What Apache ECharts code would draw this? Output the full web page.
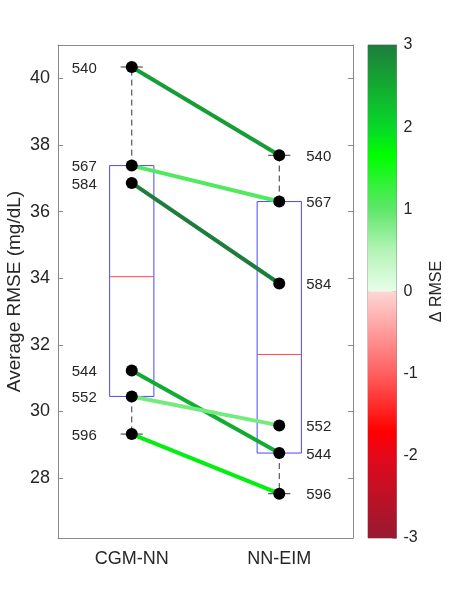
<!DOCTYPE html>
<html>
<head>
<meta charset="utf-8">
<script src="https://cdn.jsdelivr.net/npm/echarts@6/dist/echarts.min.js"></script>
<style>
  html, body { margin: 0; padding: 0; background: #fff; }
  #chart { width: 474px; height: 605px; }
</style>
</head>
<body>
<div id="chart"></div>
<script>
const categories = ['CGM-NN', 'NN-EIM'];
const subjects = ['540', '567', '584', '544', '552', '596'];
const cgmNN = [40.34, 37.38, 36.86, 31.23, 30.45, 29.32];
const nnEIM = [37.69, 36.30, 33.84, 28.75, 29.58, 27.53];
const yTicks = [28, 30, 32, 34, 36, 38, 40];
const cbarTicks = [-3, -2, -1, 0, 1, 2, 3];
const cbarRange = [-3, 3];

// colormap for delta RMSE, split at 0
const cmapPos = [[0, '#e8fde8'], [0.5, '#b3f4b6'], [1, '#5fe66a'], [1.65, '#00ff00'], [2, '#08d828'], [3, '#1e7d3c']];
const cmapNeg = [[0, '#ffd6d6'], [-1, '#ff5f5f'], [-1.7, '#ff0000'], [-2, '#e3081a'], [-3, '#981a32']];

const FONT = 'Liberation Sans';
const AXIS_GREY = '#8a8a8a';
const TEXT = '#262626';

function hexRgb(h) {
  return [1, 3, 5].map(i => parseInt(h.slice(i, i + 2), 16));
}

function cmapColor(v) {
  const stops = v >= 0 ? cmapPos : cmapNeg;
  const a = Math.abs(Math.max(cbarRange[0], Math.min(cbarRange[1], v)));
  for (let i = 1; i < stops.length; i++) {
    const a0 = Math.abs(stops[i - 1][0]), a1 = Math.abs(stops[i][0]);
    if (a <= a1) {
      const t = (a - a0) / (a1 - a0);
      const c0 = hexRgb(stops[i - 1][1]), c1 = hexRgb(stops[i][1]);
      const c = c0.map((x, k) => Math.round(x + (c1[k] - x) * t));
      return 'rgb(' + c.join(',') + ')';
    }
  }
  return stops[stops.length - 1][1];
}

// MATLAB style percentile
function prctile(vals, p) {
  const s = vals.slice().sort((a, b) => a - b);
  const n = s.length;
  const pos = p / 100 * n + 0.5;
  if (pos <= 1) return s[0];
  if (pos >= n) return s[n - 1];
  const lo = Math.floor(pos);
  return s[lo - 1] + (s[lo] - s[lo - 1]) * (pos - lo);
}

function boxStats(vals, idx) {
  return [idx, Math.min(...vals), prctile(vals, 25), prctile(vals, 50), prctile(vals, 75), Math.max(...vals)];
}

const boxData = [boxStats(cgmNN, 0), boxStats(nnEIM, 1)];

function renderBox(params, api) {
  const x = api.value(0);
  const pMin = api.coord([x, api.value(1)]);
  const pQ1 = api.coord([x, api.value(2)]);
  const pMed = api.coord([x, api.value(3)]);
  const pQ3 = api.coord([x, api.value(4)]);
  const pMax = api.coord([x, api.value(5)]);
  const cx = pMed[0];
  const w = api.size([1, 0])[0] * 0.3;
  const cap = w / 2;
  const dash = { stroke: '#333', lineWidth: 1, lineDash: [6, 4] };
  const solid = { stroke: '#333', lineWidth: 1 };
  return {
    type: 'group',
    children: [
      { type: 'line', shape: { x1: cx, y1: pQ3[1], x2: cx, y2: pMax[1] }, style: dash },
      { type: 'line', shape: { x1: cx, y1: pQ1[1], x2: cx, y2: pMin[1] }, style: dash },
      { type: 'line', shape: { x1: cx - cap / 2, y1: pMax[1], x2: cx + cap / 2, y2: pMax[1] }, style: solid },
      { type: 'line', shape: { x1: cx - cap / 2, y1: pMin[1], x2: cx + cap / 2, y2: pMin[1] }, style: solid },
      { type: 'rect', shape: { x: cx - w / 2, y: pQ3[1], width: w, height: pQ1[1] - pQ3[1] },
        style: { fill: 'none', stroke: '#4848ff', lineWidth: 1 } },
      { type: 'line', shape: { x1: cx - w / 2, y1: pMed[1], x2: cx + w / 2, y2: pMed[1] },
        style: { stroke: '#ff4a4a', lineWidth: 1 } }
    ]
  };
}

const pairSeries = subjects.map((s, i) => ({
  type: 'line',
  name: s,
  xAxisIndex: 0,
  yAxisIndex: 0,
  z: 3,
  symbol: 'circle',
  symbolSize: 12,
  itemStyle: { color: '#000' },
  lineStyle: { color: cmapColor(cgmNN[i] - nnEIM[i]), width: 4 },
  label: {
    show: true,
    formatter: s,
    fontFamily: FONT,
    fontSize: 15,
    color: TEXT,
    offset: [0, 1.5]
  },
  data: [
    { value: cgmNN[i], label: { position: 'left', distance: 29 } },
    { value: nnEIM[i], label: { position: 'right', distance: 21 } }
  ]
}));

const posStops = cmapPos.map(([v, c]) => ({ offset: (cbarRange[1] - v) / cbarRange[1], color: c }))
  .sort((a, b) => a.offset - b.offset);
const negStops = cmapNeg.map(([v, c]) => ({ offset: v / cbarRange[0], color: c }))
  .sort((a, b) => a.offset - b.offset);

const chart = echarts.init(document.getElementById('chart'));
chart.setOption({
  animation: false,
  textStyle: { fontFamily: FONT },
  grid: [
    { left: 58, top: 45, right: 121, bottom: 67, outerBoundsMode: 'none' },
    { left: 368, top: 45, width: 28.5, bottom: 67, outerBoundsMode: 'none',
      show: true, borderColor: AXIS_GREY, borderWidth: 1 }
  ],
  xAxis: [
    {
      type: 'category', gridIndex: 0, data: categories, boundaryGap: true,
      axisLine: { lineStyle: { color: AXIS_GREY } },
      axisTick: { inside: true, alignWithLabel: true, length: 5, lineStyle: { color: AXIS_GREY } },
      axisLabel: { fontSize: 18, color: TEXT, margin: 12, fontFamily: FONT }
    },
    {
      type: 'category', gridIndex: 0, data: categories, boundaryGap: true, position: 'top',
      axisLine: { lineStyle: { color: AXIS_GREY } },
      axisTick: { inside: true, alignWithLabel: true, length: 5, lineStyle: { color: AXIS_GREY } },
      axisLabel: { show: false }
    },
    { type: 'category', gridIndex: 1, data: [''], show: false }
  ],
  yAxis: [
    {
      type: 'value', gridIndex: 0, min: 26.2, max: 41,
      name: 'Average RMSE (mg/dL)', nameLocation: 'middle', nameGap: 34, nameMoveOverlap: false,
      nameTextStyle: { fontSize: 19, color: TEXT, fontFamily: FONT },
      axisLine: { show: true, lineStyle: { color: AXIS_GREY } },
      axisTick: { show: true, inside: true, length: 5, customValues: yTicks, lineStyle: { color: AXIS_GREY } },
      axisLabel: { fontSize: 18, color: TEXT, margin: 8, customValues: yTicks, fontFamily: FONT },
      splitLine: { show: false }
    },
    {
      type: 'value', gridIndex: 0, min: 26.2, max: 41, position: 'right',
      axisLine: { show: true, lineStyle: { color: AXIS_GREY } },
      axisTick: { show: true, inside: true, length: 5, customValues: yTicks, lineStyle: { color: AXIS_GREY } },
      axisLabel: { show: false },
      splitLine: { show: false }
    },
    {
      type: 'value', gridIndex: 1, min: cbarRange[0], max: cbarRange[1], position: 'right',
      name: 'Δ RMSE', nameLocation: 'middle', nameGap: 32, nameRotate: 90,
      nameTextStyle: { fontSize: 16, color: TEXT, fontFamily: FONT },
      axisLine: { show: true, lineStyle: { color: AXIS_GREY } },
      axisTick: { show: true, inside: true, length: 4, customValues: cbarTicks, lineStyle: { color: AXIS_GREY } },
      axisLabel: { fontSize: 16, color: TEXT, margin: 7, customValues: cbarTicks, fontFamily: FONT },
      splitLine: { show: false }
    }
  ],
  series: [
    {
      type: 'custom',
      xAxisIndex: 0,
      yAxisIndex: 0,
      z: 1,
      renderItem: renderBox,
      encode: { x: 0, y: [1, 2, 3, 4, 5] },
      data: boxData
    },
    ...pairSeries,
    {
      type: 'bar', xAxisIndex: 2, yAxisIndex: 2, stack: 'cb', barWidth: '100%',
      itemStyle: { color: new echarts.graphic.LinearGradient(0, 0, 0, 1, posStops) },
      data: [cbarRange[1]]
    },
    {
      type: 'bar', xAxisIndex: 2, yAxisIndex: 2, stack: 'cb', barWidth: '100%',
      itemStyle: { color: new echarts.graphic.LinearGradient(0, 0, 0, 1, negStops) },
      data: [cbarRange[0]]
    }
  ]
});
</script>
</body>
</html>
